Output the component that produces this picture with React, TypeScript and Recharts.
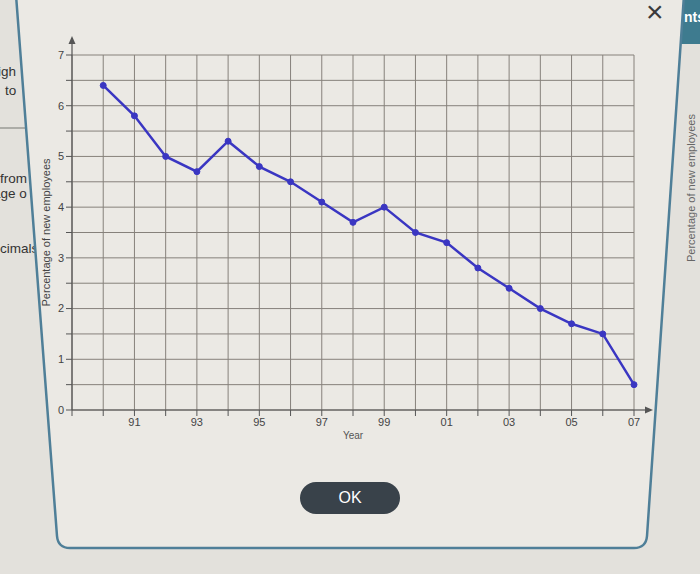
import { CartesianGrid, Line, LineChart, XAxis, YAxis } from "recharts";

const years = [
  1990, 1991, 1992, 1993, 1994, 1995, 1996, 1997, 1998, 1999, 2000, 2001, 2002,
  2003, 2004, 2005, 2006, 2007,
];
const newEmployeeShare = [
  6.4, 5.8, 5.0, 4.7, 5.3, 4.8, 4.5, 4.1, 3.7, 4.0, 3.5, 3.3, 2.8, 2.4, 2.0, 1.7,
  1.5, 0.5,
];

// one gridline per year, labels on odd years only
const yearTicks = [
  1989, 1990, 1991, 1992, 1993, 1994, 1995, 1996, 1997, 1998, 1999, 2000, 2001,
  2002, 2003, 2004, 2005, 2006, 2007,
];
const yearLabels = ["91", "93", "95", "97", "99", "01", "03", "05", "07"];

const percentTicks = [
  0, 0.5, 1, 1.5, 2, 2.5, 3, 3.5, 4, 4.5, 5, 5.5, 6, 6.5, 7,
];
const percentLabels = [0, 1, 2, 3, 4, 5, 6, 7];

const data = years.map((year, i) => ({ year, share: newEmployeeShare[i] }));

const FONT = '"Liberation Sans", Arial, sans-serif';
const LINE_BLUE = "#3a36c2";
const AXIS = "#555";

const formatYear = (v: number) => {
  const short = String(v).slice(2);
  return yearLabels.includes(short) ? short : "";
};

const formatPercent = (v: number) =>
  percentLabels.includes(v) ? String(v) : "";

export default function App() {
  return (
    <div
      style={{
        position: "absolute",
        left: 0,
        top: 0,
        width: 700,
        height: 574,
        overflow: "hidden",
        background: "#dfddd7",
        fontFamily: FONT,
      }}
    >
      {/* page behind the dialog */}
      <svg
        width={700}
        height={574}
        style={{ position: "absolute", left: 0, top: 0 }}
      >
        <rect x={0} y={0} width={700} height={574} fill="#e3e1dc" />
        <line x1={0} y1={128} x2={30} y2={128} stroke="#9a9a96" strokeWidth={1.5} />
        <rect x={672} y={0} width={28} height={44} fill="#3e7b8f" />
        <text x={684} y={22} fill="#fff" fontSize={14} fontWeight={700}>
          nts
        </text>
        <text
          transform="translate(695,262) rotate(-90)"
          fill="#666"
          fontSize={11}
        >
          Percentage of new employees
        </text>
        <g fill="#333" fontSize={13.5}>
          <text x={-2} y={76}>igh</text>
          <text x={5} y={95}>to</text>
          <text x={0} y={183}>from</text>
          <text x={-7} y={198}>age o</text>
          <text x={-15} y={253}>decimals</text>
        </g>
        {/* dialog panel */}
        <path
          d="M 16 -5 L 57 536 Q 58 548 70 548 L 634 548 Q 646 548 647 536 L 684 -5 Z"
          fill="#ebe9e4"
          stroke="#4f7f98"
          strokeWidth={2.5}
        />
      </svg>

      <div style={{ position: "absolute", left: 0, top: 0 }}>
        <LineChart
          width={700}
          height={450}
          data={data}
          margin={{ top: 55, right: 66, left: 32, bottom: 0 }}
        >
          <defs>
            <marker
              id="axisArrow"
              viewBox="0 0 20 10"
              refX={0}
              refY={5}
              markerWidth={20}
              markerHeight={10}
              markerUnits="userSpaceOnUse"
              orient="auto-start-reverse"
            >
              <path d="M0 5 H17" stroke={AXIS} strokeWidth={1.2} />
              <path d="M11 1.5 L19 5 L11 8.5 Z" fill={AXIS} />
            </marker>
          </defs>
          <CartesianGrid stroke="#86817b" strokeWidth={1} />
          <XAxis
            dataKey="year"
            type="number"
            domain={[1989, 2007]}
            ticks={yearTicks}
            interval={0}
            tickFormatter={formatYear}
            tick={{ fill: "#444", fontSize: 11 }}
            tickLine={{ stroke: AXIS }}
            axisLine={{
              stroke: AXIS,
              strokeWidth: 1.2,
              markerEnd: "url(#axisArrow)",
            }}
            height={40}
            label={{
              value: "Year",
              position: "insideBottom",
              offset: 11,
              fill: "#555",
              fontSize: 10,
            }}
          />
          <YAxis
            type="number"
            domain={[0, 7]}
            ticks={percentTicks}
            interval={0}
            tickFormatter={formatPercent}
            tick={{ fill: "#444", fontSize: 11 }}
            tickLine={{ stroke: AXIS }}
            axisLine={{
              stroke: AXIS,
              strokeWidth: 1.2,
              markerStart: "url(#axisArrow)",
            }}
            width={40}
            label={{
              value: "Percentage of new employees",
              angle: -90,
              position: "insideLeft",
              offset: 14,
              fill: "#444",
              fontSize: 11,
              style: { textAnchor: "middle" },
            }}
          />
          <Line
            type="linear"
            dataKey="share"
            stroke={LINE_BLUE}
            strokeWidth={2.5}
            dot={{ r: 3, fill: LINE_BLUE, stroke: LINE_BLUE, strokeWidth: 1 }}
            isAnimationActive={false}
          />
        </LineChart>
      </div>

      <div
        style={{
          position: "absolute",
          left: 300,
          top: 482,
          width: 100,
          height: 32,
          borderRadius: 16,
          background: "#39424a",
          color: "#fff",
          fontSize: 16,
          lineHeight: "32px",
          textAlign: "center",
        }}
      >
        OK
      </div>

      <div
        style={{
          position: "absolute",
          left: 646,
          top: -6,
          color: "#3a3a3a",
          fontSize: 30,
          fontWeight: 300,
          lineHeight: "36px",
        }}
      >
        ×
      </div>
    </div>
  );
}
